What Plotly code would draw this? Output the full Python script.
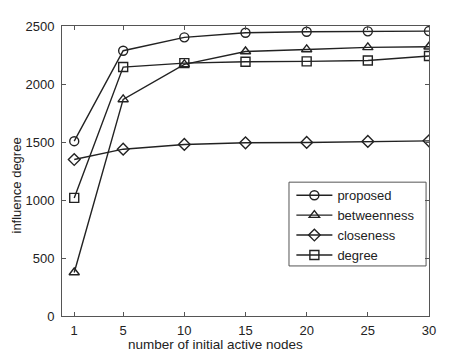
import plotly.graph_objects as go

x_vals = [1, 5, 10, 15, 20, 25, 30]
proposed = [1507, 2287, 2402, 2442, 2450, 2454, 2456]
betweenness = [375, 1867, 2169, 2280, 2298, 2316, 2321]
closeness = [1349, 1438, 1479, 1493, 1496, 1505, 1510]
degree = [1018, 2146, 2180, 2192, 2195, 2203, 2241]
x_ticks = [1, 5, 10, 15, 20, 25, 30]
y_ticks = [0, 500, 1000, 1500, 2000, 2500]

series = [
    ("proposed", proposed, "circle-open"),
    ("betweenness", betweenness, "triangle-up-open"),
    ("closeness", closeness, "diamond-open"),
    ("degree", degree, "square-open"),
]

FONT = "Liberation Sans, Arial, sans-serif"
TXT = "#222222"

fig = go.Figure()
for name, vals, sym in series:
    fig.add_trace(go.Scatter(
        x=x_vals, y=vals, name=name, mode="lines+markers",
        line=dict(color=TXT, width=1.4),
        marker=dict(symbol=sym, size=9, color=TXT, line=dict(width=1.4, color=TXT)),
    ))

axis_common = dict(
    showline=True, linecolor="#555555", linewidth=1, mirror="ticks",
    ticks="inside", ticklen=4, tickcolor="#555555",
    showgrid=False, zeroline=False, automargin=False,
    tickfont=dict(family=FONT, size=13, color=TXT),
)

fig.add_shape(
    type="rect", xref="paper", yref="paper",
    x0=0.6185, x1=0.992, y0=0.1726, y1=0.4615,
    line=dict(color="#555555", width=1), fillcolor="white", layer="below",
)

fig.add_annotation(
    text="number of initial active nodes", xref="paper", yref="paper",
    x=0.419, y=-0.0966, xanchor="center", yanchor="middle", showarrow=False,
    font=dict(family=FONT, size=13.5, color=TXT),
)
fig.add_annotation(
    text="influence degree", xref="paper", yref="paper",
    x=(8 - 54) / 367, y=0.45, xanchor="center", yanchor="middle", showarrow=False,
    textangle=-90, font=dict(family=FONT, size=13, color=TXT),
)

fig.update_layout(
    width=466, height=347,
    margin=dict(l=54, r=45, t=18, b=39),
    paper_bgcolor="white", plot_bgcolor="white",
    showlegend=True,
    legend=dict(
        x=0.625, y=0.468, xanchor="left", yanchor="top",
        borderwidth=0, bgcolor="rgba(0,0,0,0)",
        font=dict(family=FONT, size=13, color=TXT),
        tracegroupgap=0, itemwidth=36,
    ),
    xaxis=dict(range=[0, 30], tickvals=x_ticks, ticklabelstandoff=2, **axis_common),
    yaxis=dict(range=[0, 2500], tickvals=y_ticks, ticklabelstandoff=4, **axis_common),
)

fig.write_html("out.html")
